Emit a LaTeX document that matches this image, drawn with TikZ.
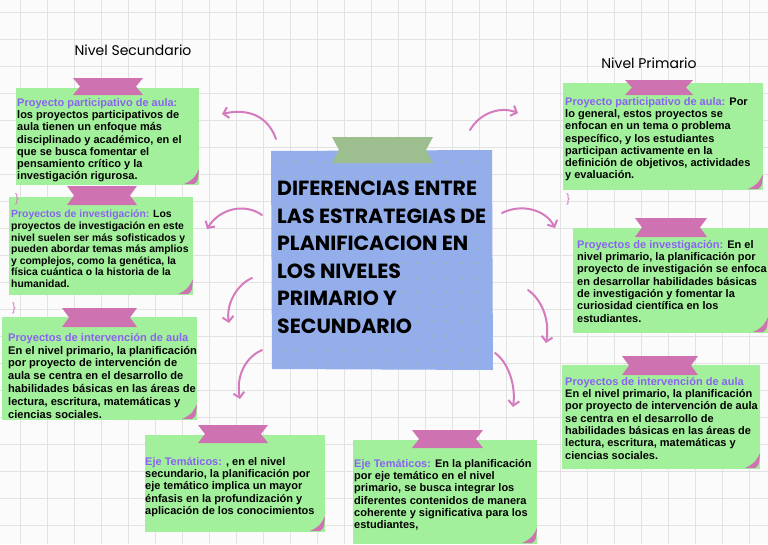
\documentclass[tikz,border=0pt]{standalone}
\usepackage{fontspec}
\setmainfont{Liberation Sans}
\newfontfamily\handfont{Poppins}
\usetikzlibrary{arrows.meta}
\definecolor{bgc}{HTML}{FBFBFB}
\definecolor{gridc}{HTML}{E2E2E2}
\definecolor{notegreen}{HTML}{A3F09C}
\definecolor{noteblue}{HTML}{94AEEB}
\definecolor{ribpink}{HTML}{CE72B1}
\definecolor{ribgreen}{HTML}{9DBE8E}
\definecolor{arrpink}{HTML}{D47BBE}
\definecolor{headpurple}{HTML}{8A63F2}
\definecolor{dotc}{HTML}{9BC78C}
\newcommand\hd[1]{\textcolor{headpurple}{#1}}
\newcommand\mynote[8]{%
  \fill[notegreen] (#1,#2) rectangle (#3,#4);
  \pgfmathsetmacro\ribmid{(#7+#8)/2}
  \fill[ribpink] (#5,#7) -- (#6,#7) -- ({#6-7},\ribmid) -- (#6,#8) -- (#5,#8) -- ({#5+7},\ribmid) -- cycle;
  \fill[ribpink] (#3,{#4-16}) .. controls ({#3-4},{#4-7}) and ({#3-8},{#4-4}) .. ({#3-15},{#4-1}) -- ({#3-5},{#4-1}) .. controls ({#3-1},{#4-4}) .. (#3,{#4-16});
}
\tikzset{
  notetext/.style={anchor=north west, align=left, inner sep=0pt, font=\fontsize{11}{12.3}\selectfont\bfseries},
  curvearrow/.style={draw=arrpink, line width=2pt, line cap=round, -{Straight Barb[length=5pt,width=11pt]}},
  brace/.style={text=arrpink, font=\fontsize{12}{12}\selectfont, inner sep=0pt},
  lvl/.style={font=\handfont\fontsize{14}{14}\selectfont, inner sep=0pt}
}
\begin{document}
\begin{tikzpicture}[x=1pt,y=-1pt]
\useasboundingbox (0,0) rectangle (768,544);
\fill[bgc] (0,0) rectangle (768,544);
\foreach \gx in {20,47,...,768} \draw[gridc, line width=0.6pt] (\gx,0) -- (\gx,544);
\foreach \gy in {12,39,...,544} \draw[gridc, line width=0.6pt] (0,\gy) -- (768,\gy);

% titles
\node[lvl] (secund) at (133,50) {Nivel Secundario};
\node[lvl] (prim) at (649,63) {Nivel Primario};

% centre note
\fill[noteblue] (271,151) -- (492,150) -- (493,370) -- (272,369) -- cycle;
\foreach \dx in {282,297,...,486} \foreach \dy in {162,176.5,...,366} \fill[dotc] (\dx,\dy) circle (0.9pt);
\fill[ribgreen] (332,137) -- (433,137) -- (426,150) -- (433,163) -- (332,163) -- (339,150) -- cycle;
\node[anchor=north west, align=left, inner sep=0pt, font=\handfont\bfseries\fontsize{20.5}{27.5}\selectfont] (title) at (277,181)
 {DIFERENCIAS ENTRE\\LAS ESTRATEGIAS DE\\PLANIFICACION EN\\LOS NIVELES\\PRIMARIO Y\\SECUNDARIO};

% notes
\mynote{16}{88}{199}{185}{73}{143}{78}{95}
\mynote{9}{197}{193}{295}{67}{137}{186}{205}
\mynote{2}{317}{197}{420}{62}{137}{308}{327}
\mynote{145}{435}{325}{532}{198}{268}{425}{443}
\mynote{353}{440}{537}{544}{412}{483}{430}{448}
\mynote{563}{83}{763}{190}{625}{693}{80}{95}
\mynote{573}{228}{768}{333}{635}{707}{218}{237}
\mynote{562}{365}{760}{469}{622}{698}{356}{375}

\node[notetext] (n1) at (17,98) {\hd{Proyecto participativo de aula:}\\los proyectos participativos de\\aula tienen un enfoque más\\disciplinado y académico, en el\\que se busca fomentar el\\pensamiento crítico y la\\investigación rigurosa.};
\node[notetext, font=\fontsize{10.4}{11.6}\selectfont\bfseries] (n2) at (11,210) {\hd{Proyectos de investigación:} Los\\proyectos de investigación en este\\nivel suelen ser más sofisticados y\\pueden abordar temas más amplios\\y complejos, como la genética, la\\física cuántica o la historia de la\\humanidad.};
\node[notetext, font=\fontsize{11.1}{12.8}\selectfont\bfseries] (n3) at (8,333) {\hd{Proyectos de intervención de aula}\\En el nivel primario, la planificación\\por proyecto de intervención de\\aula se centra en el desarrollo de\\habilidades básicas en las áreas de\\lectura, escritura, matemáticas y\\ciencias sociales.};
\node[notetext] (n4) at (145,457) {\hd{Eje Temáticos:} , en el nivel\\secundario, la planificación por\\eje temático implica un mayor\\énfasis en la profundización y\\aplicación de los conocimientos};
\node[notetext] (n5) at (354,459) {\hd{Eje Temáticos:} En la planificación\\por eje temático en el nivel\\primario, se busca integrar los\\diferentes contenidos de manera\\coherente y significativa para los\\estudiantes,};
\node[notetext] (n6) at (565,97) {\hd{Proyecto participativo de aula:} Por\\lo general, estos proyectos se\\enfocan en un tema o problema\\específico, y los estudiantes\\participan activamente en la\\definición de objetivos, actividades\\y evaluación.};
\begin{scope}
\clip (0,0) rectangle (768,544);
\node[notetext] (n7) at (577,240) {\hd{Proyectos de investigación:} En el\\nivel primario, la planificación por\\proyecto de investigación se enfoca\\en desarrollar habilidades básicas\\de investigación y fomentar la\\curiosidad científica en los\\estudiantes.};
\end{scope}
\node[notetext] (n8) at (565,377) {\hd{Proyectos de intervención de aula}\\En el nivel primario, la planificación\\por proyecto de intervención de aula\\se centra en el desarrollo de\\habilidades básicas en las áreas de\\lectura, escritura, matemáticas y\\ciencias sociales.};

% braces
\node[brace] (b1) at (17,199) {\}};
\node[brace] (b2) at (14,308) {\}};
\node[brace] (b3) at (568,199) {\}};

% arrows
\coordinate (a1s) at (276,139); \coordinate (a1e) at (222,114);
\coordinate (a2s) at (262,215); \coordinate (a2e) at (207,229);
\coordinate (a3s) at (252,278); \coordinate (a3e) at (229,323);
\coordinate (a4s) at (262,350); \coordinate (a4e) at (240,399);
\coordinate (a5s) at (470,130); \coordinate (a5e) at (518,113);
\coordinate (a6s) at (502,213); \coordinate (a6e) at (555,228);
\coordinate (a7s) at (528,290); \coordinate (a7e) at (546,343);
\coordinate (a8s) at (495,353); \coordinate (a8e) at (513,407);
\draw[curvearrow] (a1s) .. controls (268,116) and (248,108) .. (a1e);
\draw[curvearrow] (a2s) .. controls (245,203) and (220,208) .. (a2e);
\draw[curvearrow] (a3s) .. controls (236,285) and (226,305) .. (a3e);
\draw[curvearrow] (a4s) .. controls (244,358) and (236,378) .. (a4e);
\draw[curvearrow] (a5s) .. controls (480,113) and (500,106) .. (a5e);
\draw[curvearrow] (a6s) .. controls (522,203) and (546,210) .. (a6e);
\draw[curvearrow] (a7s) .. controls (542,300) and (550,320) .. (a7e);
\draw[curvearrow] (a8s) .. controls (508,362) and (516,385) .. (a8e);
\end{tikzpicture}
\end{document}
